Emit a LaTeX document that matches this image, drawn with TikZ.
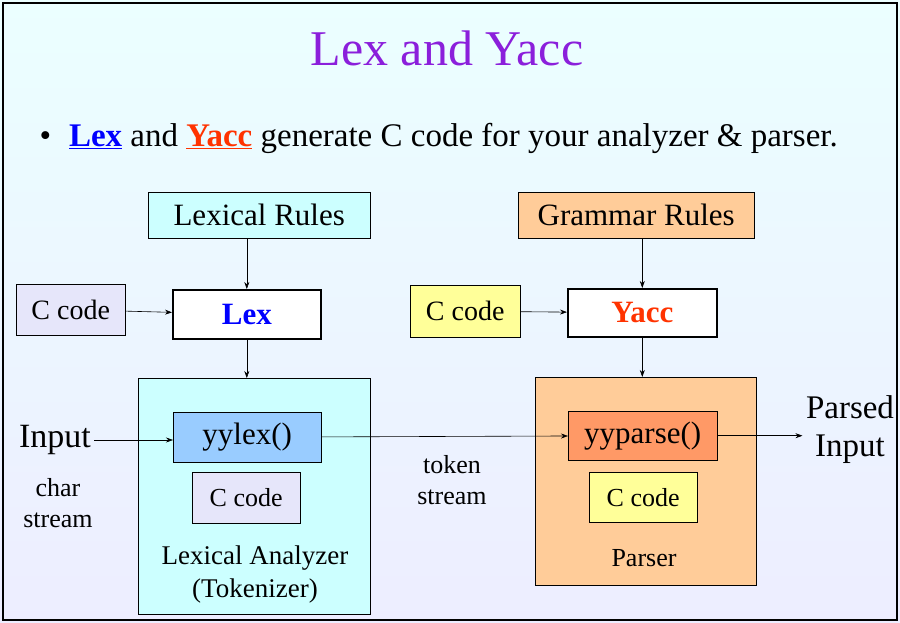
\documentclass[tikz,border=0pt]{standalone}
\usepackage{fontspec}
\setmainfont{Liberation Serif}
\usetikzlibrary{arrows.meta}
\definecolor{cyanbox}{HTML}{CCFFFF}
\definecolor{peach}{HTML}{FFCC99}
\definecolor{lav}{HTML}{E6E6FA}
\definecolor{yel}{HTML}{FFFF99}
\definecolor{blu}{HTML}{99CCFF}
\definecolor{ora}{HTML}{FF9966}
\definecolor{purp}{HTML}{8B1FDB}
\definecolor{yred}{HTML}{FF3300}
\begin{document}
\begin{tikzpicture}[x=1pt,y=-1pt,
 box/.style={draw,thin,inner sep=0pt,anchor=north west,font=\fontsize{28}{30}\selectfont},
 thk/.style={box,line width=1.6pt,fill=white},
 arr/.style={-{Stealth[length=7pt,width=5pt]},line width=0.6pt},
 lbl/.style={font=\fontsize{26}{31}\selectfont,align=center}]
\useasboundingbox (0,0) rectangle (900,623);
\shade[top color=white!80!cyan!40, bottom color=blue!7] (0,0) rectangle (900,623);
\draw[line width=1.5pt] (3,3) rectangle (897,620);
\node[font=\fontsize{50}{52}\selectfont,text=purp] (title) at (447,48) {Lex and Yacc};
\node[anchor=west,font=\fontsize{33}{35}\selectfont] (bul) at (36,138) {\textbullet\hspace{18pt}{\color{blue}\bfseries\underline{Lex}} and {\color{yred}\bfseries\underline{Yacc}} generate C code for your analyzer \& parser.};
\node[box,fill=cyanbox,minimum width=222,minimum height=46,font=\fontsize{31}{33}\selectfont] (lr) at (148,192) {Lexical Rules};
\node[box,fill=peach,minimum width=236,minimum height=46,font=\fontsize{31}{33}\selectfont] (gr) at (518,192) {Grammar Rules};
\node[box,fill=lav,minimum width=109,minimum height=51] (c1) at (16,284) {C code};
\node[thk,minimum width=148,minimum height=49,text=blue,font=\fontsize{31}{33}\selectfont\bfseries] (lex) at (172,289) {Lex};
\node[box,fill=yel,minimum width=110,minimum height=52] (c2) at (410,285) {C code};
\node[thk,minimum width=149,minimum height=48,text=yred,font=\fontsize{31}{33}\selectfont\bfseries] (yacc) at (567,288) {Yacc};
\node[box,fill=cyanbox,minimum width=232,minimum height=236] (la) at (138,378) {};
\node[box,fill=peach,minimum width=221,minimum height=208] (pa) at (535,377) {};
\node[box,fill=blu,minimum width=148,minimum height=50,font=\fontsize{31}{33}\selectfont] (yl) at (173,412) {yylex()};
\node[box,fill=lav,minimum width=108,minimum height=51,font=\fontsize{26}{28}\selectfont] (c3) at (192,472) {C code};
\node[box,fill=ora,minimum width=149,minimum height=49,font=\fontsize{31}{33}\selectfont] (yp) at (568,411) {yyparse()};
\node[box,fill=yel,minimum width=108,minimum height=50,font=\fontsize{26}{28}\selectfont] (c4) at (589,472) {C code};
\node[lbl,font=\fontsize{27}{33}\selectfont] (lat) at (255,575) {Lexical Analyzer\\(Tokenizer)};
\node[lbl] (pt) at (644,558) {Parser};
\node[font=\fontsize{34}{36}\selectfont] (in) at (55,440) {Input};
\node[lbl] (cs) at (58,503) {char\\stream};
\node[lbl] (ts) at (452,480) {token\\stream};
\node[font=\fontsize{33}{38}\selectfont,align=center] (pi) at (850,430) {Parsed\\Input};
\draw[arr] (lr.south -| lex.north) -- (lex.north);
\draw[arr] (c1) -- (lex);
\draw[arr] (lex.south) -- (lex.south |- la.north);
\draw[arr] (in.east) -- (in.east -| yl.west);
\draw[arr] (yl) -- (yp);
\draw[arr] (gr.south -| yacc.north) -- (yacc.north);
\draw[arr] (c2) -- (yacc);
\draw[arr] (yacc.south) -- (yacc.south |- pa.north);
\draw[arr] (yp.east) -- (yp.east -| pi.west);
\end{tikzpicture}
\end{document}
